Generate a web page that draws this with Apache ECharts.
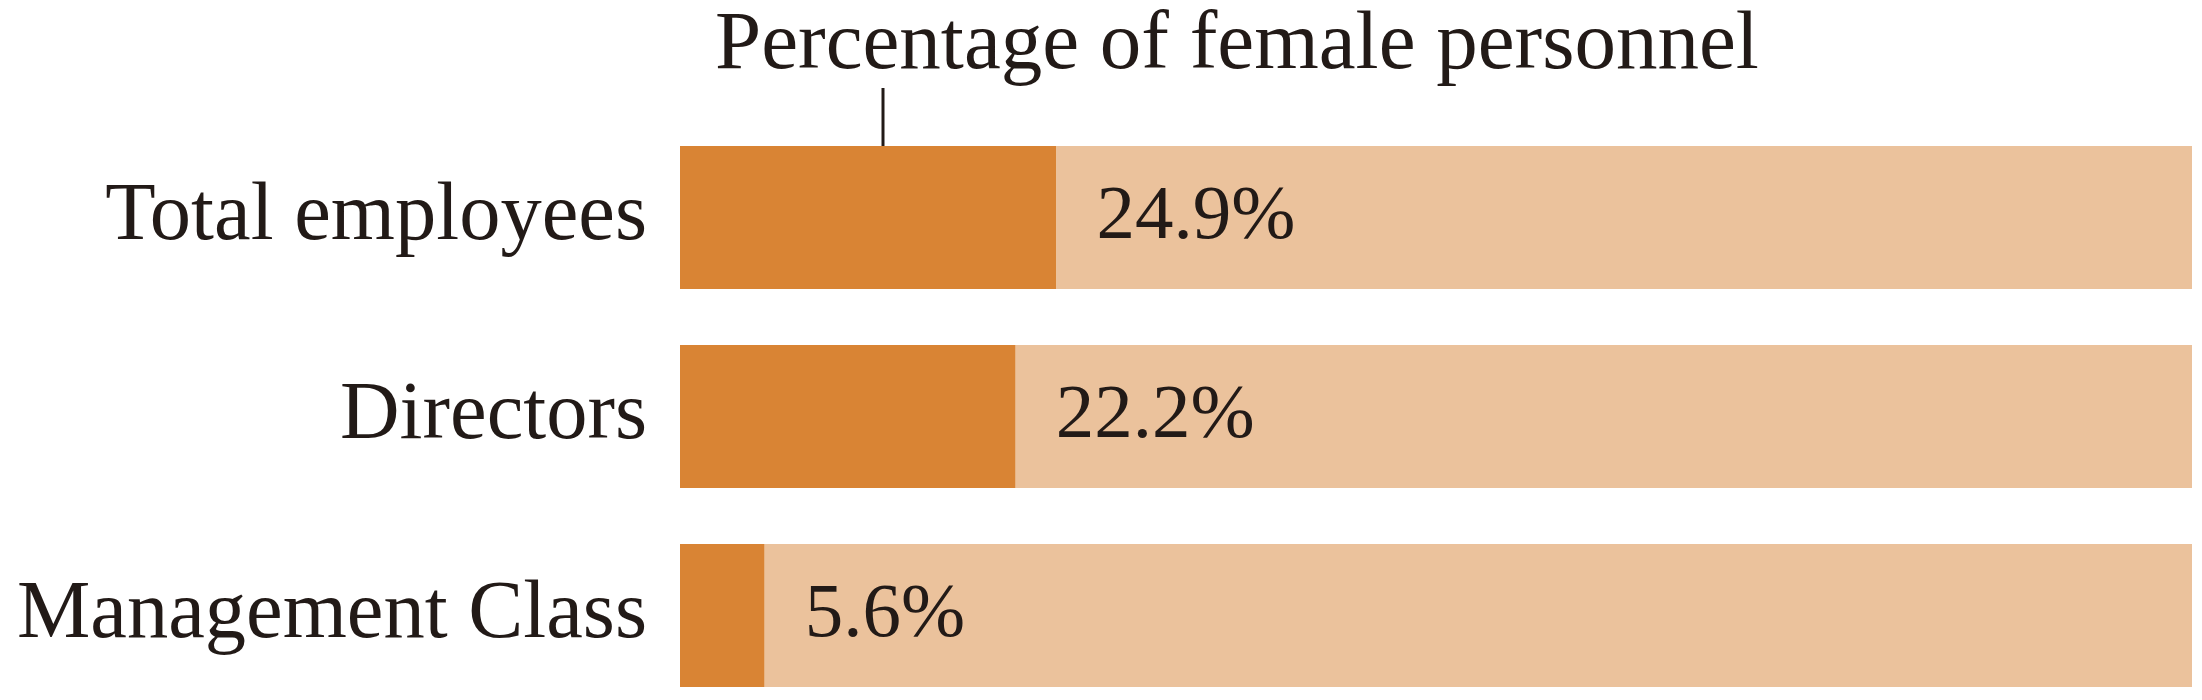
<!DOCTYPE html>
<html>
<head>
<meta charset="utf-8">
<script src="https://cdn.jsdelivr.net/npm/echarts@6/dist/echarts.min.js"></script>
<style>
html,body{margin:0;padding:0;background:#fff;}
#chart{width:2202px;height:700px;}
</style>
</head>
<body>
<div id="chart"></div>
<script>
const categories = ['Total employees', 'Directors', 'Management Class'];
const femalePct = [24.9, 22.2, 5.6];
const restPct = [75.1, 77.8, 94.4];
const titleText = 'Percentage of female personnel';

const FONT = '"Liberation Serif", "DejaVu Serif", serif';
const TEXT = '#221a17';

const chart = echarts.init(document.getElementById('chart'));
chart.setOption({
  animation: false,
  backgroundColor: '#ffffff',
  title: {
    text: titleText,
    left: 710,
    top: 0,
    textStyle: { fontFamily: FONT, fontSize: 83, fontWeight: 'normal', color: TEXT }
  },
  grid: { left: 680, right: 10, top: 118, height: 597, outerBoundsMode: 'none', containLabel: false },
  xAxis: {
    type: 'value', min: 0, max: 100,
    show: false
  },
  yAxis: {
    type: 'category', data: categories, inverse: true,
    axisLine: { show: false }, axisTick: { show: false }, splitLine: { show: false },
    axisLabel: { margin: 33, fontFamily: FONT, fontSize: 82.5, color: TEXT }
  },
  graphic: [{
    type: 'line',
    shape: { x1: 883, y1: 88, x2: 883, y2: 146 },
    style: { stroke: TEXT, lineWidth: 3 }
  }],
  series: [
    {
      type: 'bar', stack: 'a', data: femalePct, barWidth: 143,
      itemStyle: { color: '#D98434' }
    },
    {
      type: 'bar', stack: 'a', data: restPct, barWidth: 143,
      itemStyle: { color: '#EBC29C' },
      label: {
        show: true, position: 'insideLeft', distance: 40,
        formatter: p => femalePct[p.dataIndex].toFixed(1) + '%',
        fontFamily: FONT, fontSize: 77, color: TEXT
      }
    }
  ]
});
</script>
</body>
</html>
